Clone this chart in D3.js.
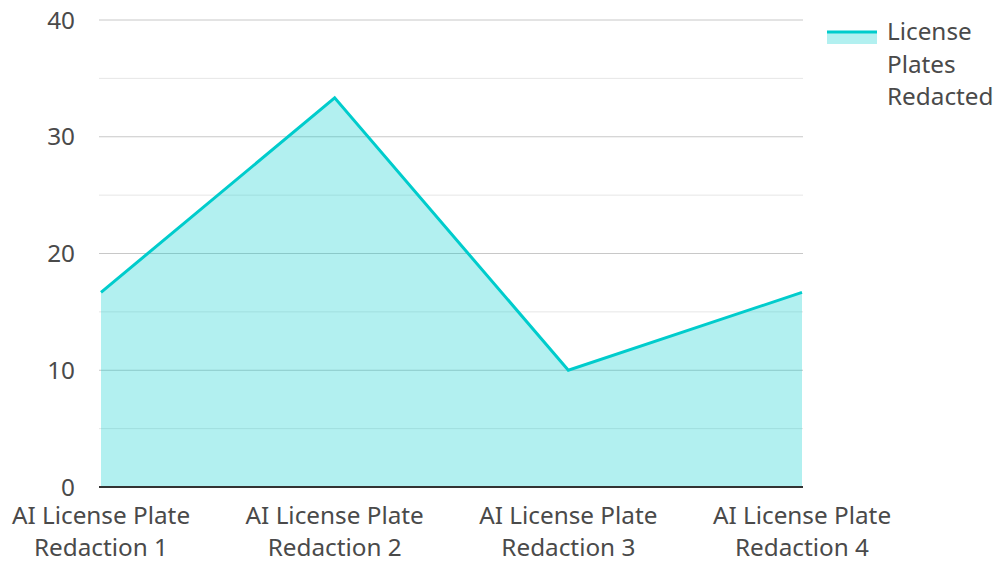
<!DOCTYPE html>
<html><head><meta charset="utf-8">
<script src="https://cdn.jsdelivr.net/npm/d3@7"></script>
<style>
body{margin:0;background:#fff;}
svg text{font-family:"Noto Sans",sans-serif;fill:#4a4a4a;}
</style></head>
<body><svg id="c" width="997" height="561"></svg>
<script>
const categories = ["AI License Plate Redaction 1","AI License Plate Redaction 2","AI License Plate Redaction 3","AI License Plate Redaction 4"];
const labelLines = [["AI License Plate","Redaction 1"],["AI License Plate","Redaction 2"],["AI License Plate","Redaction 3"],["AI License Plate","Redaction 4"]];
const values = [16.67, 33.33, 10, 16.67];
const seriesName = ["License","Plates","Redacted"];
const majorTicks = [0,10,20,30,40];
const minorTicks = [5,15,25,35];

const svg = d3.select("#c");
const x = d3.scalePoint().domain(categories).range([101,802]);
const y = d3.scaleLinear().domain([0,40]).range([487,20]);
const fs = 24.3;

// gridlines
svg.append("g").selectAll("line.minor").data(minorTicks).join("line")
  .attr("x1",99).attr("x2",803).attr("y1",d=>y(d)).attr("y2",d=>y(d))
  .attr("stroke","#e6e6e6").attr("stroke-width",1);
svg.append("g").selectAll("line.major").data(majorTicks.filter(d=>d>0)).join("line")
  .attr("x1",99).attr("x2",803).attr("y1",d=>y(d)).attr("y2",d=>y(d))
  .attr("stroke","#c8c8c8").attr("stroke-width",1);

// area
const area = d3.area().x((d,i)=>x(categories[i])).y0(y(0)).y1(d=>y(d));
svg.append("path").datum(values).attr("d",area).attr("fill","rgba(0,204,204,0.3)");
const line = d3.line().x((d,i)=>x(categories[i])).y(d=>y(d));
svg.append("path").datum(values).attr("d",line).attr("fill","none")
  .attr("stroke","#00cccc").attr("stroke-width",3).attr("stroke-linejoin","miter");

// x axis line
svg.append("line").attr("x1",99).attr("x2",803).attr("y1",y(0)).attr("y2",y(0))
  .attr("stroke","#333").attr("stroke-width",2);

// y tick labels
svg.append("g").selectAll("text").data(majorTicks).join("text")
  .attr("x",75).attr("y",d=>y(d)).attr("dy","0.35em").attr("text-anchor","end")
  .attr("font-size",fs).text(d=>d);

// x labels
const xl = svg.append("g").selectAll("text").data(categories).join("text")
  .attr("x",d=>x(d)).attr("y",524).attr("text-anchor","middle").attr("font-size",fs);
xl.selectAll("tspan").data((d,i)=>labelLines[i]).join("tspan")
  .attr("x",function(){return x(d3.select(this.parentNode).datum());})
  .attr("dy",(d,i)=>i===0?0:32).text(d=>d);

// legend
const lg = svg.append("g");
lg.append("rect").attr("x",827).attr("y",31).attr("width",50).attr("height",13).attr("fill","rgba(0,204,204,0.3)");
lg.append("line").attr("x1",827).attr("x2",877).attr("y1",32).attr("y2",32).attr("stroke","#00cccc").attr("stroke-width",3);
lg.append("text").attr("x",887).attr("y",40).attr("font-size",fs)
  .selectAll("tspan").data(seriesName).join("tspan").attr("x",887).attr("dy",(d,i)=>i===0?0:32.5).text(d=>d);
</script></body></html>
